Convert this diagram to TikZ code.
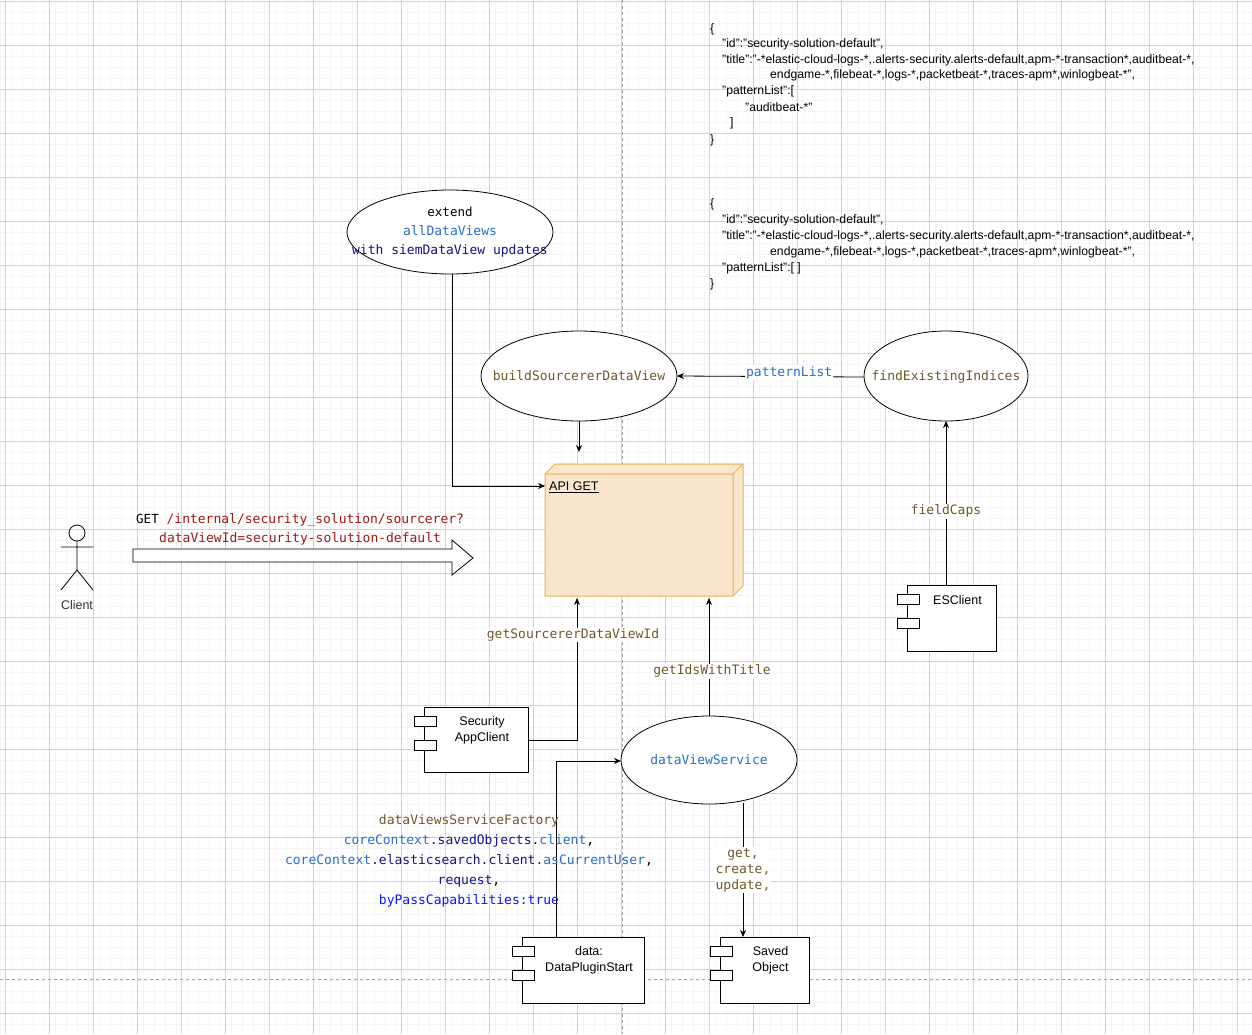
\documentclass[tikz,border=0pt]{standalone}
\usepackage{fontspec}
\setmainfont{Liberation Sans}
\newfontfamily\codefont{DejaVu Sans Mono}
\newcommand{\sanssz}{\fontsize{12.5}{19}\selectfont}
\newcommand{\codesz}{\codefont\fontsize{13}{19}\selectfont}
\usetikzlibrary{arrows.meta}
\definecolor{cbrown}{RGB}{110,88,40}
\definecolor{cblue}{RGB}{40,110,200}
\definecolor{cnavy}{RGB}{20,20,130}
\definecolor{cbright}{RGB}{10,20,250}
\definecolor{cred}{RGB}{160,25,25}
\definecolor{boxfill}{RGB}{250,230,205}
\definecolor{boxline}{RGB}{230,180,90}
\begin{document}
\begin{tikzpicture}[x=1pt,y=-1pt,
  comp/.style={draw,fill=white,line width=0.8pt},
  arr/.style={-{Stealth[length=7pt,width=6pt]},line width=0.8pt},
  code/.style={font=\codefont\fontsize{13}{20}\selectfont},
  sans/.style={font=\sanssz},
  json/.style={font=\fontsize{12.2}{16}\selectfont,anchor=west,inner sep=0pt}]
\useasboundingbox (0,0) rectangle (1252,1034);
\fill[white] (0,0) rectangle (1252,1034);
\foreach \i in {0,...,114} {\draw[gray!8,line width=0.8pt] (\i*11,0) -- (\i*11,1034);}
\foreach \i in {0,...,94} {\draw[gray!8,line width=0.8pt] (0,1+\i*11) -- (1252,1+\i*11);}
\foreach \i in {0,...,28} {\draw[gray!35,line width=0.7pt] (5+\i*44,0) -- (5+\i*44,1034);}
\foreach \i in {0,...,23} {\draw[gray!35,line width=0.7pt] (0,1+\i*44) -- (1252,1+\i*44);}
\draw[gray!70,dashed,line width=1pt] (622,0) -- (622,1034);
\draw[gray!70,dashed,line width=1pt] (0,979) -- (1252,979);

% ellipses
\draw[fill=white,line width=0.8pt] (450,232) ellipse [x radius=103,y radius=42];
\node[align=center,inner sep=0pt,font=\codesz] (ext) at (450,232) {{\sanssz extend}\\ \color{cblue}allDataViews\\ \color{cnavy}with siemDataView updates};
\coordinate (extb) at (452,274);
\draw[fill=white,line width=0.8pt] (579,376) ellipse [x radius=98,y radius=45];
\node[code,text=cbrown] (build) at (579,376) {buildSourcererDataView};
\coordinate (buildb) at (579,421); \coordinate (buildr) at (677,376);
\draw[fill=white,line width=0.8pt] (946,376) ellipse [x radius=82,y radius=45];
\node[code,text=cbrown] (find) at (946,377) {findExistingIndices};
\coordinate (findb) at (946,421); \coordinate (findl) at (864,377);
\draw[fill=white,line width=0.8pt] (709,760) ellipse [x radius=88,y radius=44];
\node[code,text=cblue] (dvs) at (709,760) {dataViewService};
\coordinate (dvst) at (709,716); \coordinate (dvsl) at (621,761); \coordinate (dvsb) at (743,803);

% API GET box
\draw[boxline,fill=boxfill,line width=1pt] (545,474) -- (555,464) -- (743,464) -- (743,586) -- (733,596) -- (545,596) -- cycle;
\draw[boxline,line width=1pt] (545,474) -- (733,474) -- (743,464) (733,474) -- (733,596);
\node[sans,anchor=west,inner sep=0pt] (api) at (549,487) {\underline{API GET}};
\coordinate (apil) at (545,486); \coordinate (apib1) at (577,598); \coordinate (apib2) at (709,598);

% components
\newcommand{\compo}[6]{%
 \draw[comp] (#1,#2) rectangle (#3,#4);
 \draw[comp] (#1-10,#2+9) rectangle (#1+12,#2+19);
 \draw[comp] (#1-10,#2+33) rectangle (#1+12,#2+43);
 \node[font=\fontsize{12.5}{16}\selectfont,align=center,inner sep=0pt] (#5) at ({(#1+#3)/2+6},#2+23) {#6};}
\compo{907}{585}{996}{651}{es}{ESClient\\ \phantom{X}}
\compo{424}{707}{528}{772}{sec}{Security\\AppClient}
\compo{522}{937}{644}{1003}{dps}{data:\\DataPluginStart}
\compo{720}{937}{809}{1003}{so}{Saved\\Object}
\coordinate (est) at (946,585); \coordinate (secr) at (528,740);
\coordinate (dpst) at (556,937); \coordinate (sot) at (743,937);

% actor
\draw[line width=0.8pt] (77,533) circle (8);
\draw[line width=0.8pt] (77,541) -- (77,570) (61,547) -- (93,547) (61,590) -- (77,570) -- (93,590);
\node[sans,text=black!80] (client) at (77,605) {Client};
% big arrow
\draw[line width=0.8pt,fill=white] (133,549) -- (452,549) -- (452,540) -- (473,558) -- (452,575) -- (452,562) -- (133,562) -- cycle;
\node[anchor=west,inner sep=0pt,align=left,font=\codesz] (getlbl) at (136,529) {{\sanssz GET} \color{cred}/internal/security\_solution/sourcerer?\\\hspace*{23pt}\color{cred}dataViewId=security-solution-default};

% connectors
\draw[arr] (extb) |- (apil);
\draw[arr] (buildb) -- (579,452);
\draw[arr] (findl) -- (buildr) node[pos=0.4,fill=white,inner sep=1pt,code,text=cblue,yshift=4pt] {patternList};
\draw[arr] (est) -- (findb) node[pos=0.45,fill=white,inner sep=1pt,code,text=cbrown] {fieldCaps};
\draw[arr] (secr) -| (apib1) node[pos=0.87,fill=white,inner sep=1pt,code,text=cbrown,xshift=-4pt] {getSourcererDataViewId};
\draw[arr] (dvst) -- (apib2) node[pos=0.38,fill=white,inner sep=1pt,code,text=cbrown,xshift=3pt] {getIdsWithTitle};
\draw[arr] (dpst) |- (dvsl);
\draw[arr] (dvsb) -- (sot) node[pos=0.5,fill=white,inner sep=1pt,text=cbrown,align=center,font=\codefont\fontsize{13}{16}\selectfont] {get,\\create,\\update,};
\node[align=center,inner sep=0pt,font=\codefont\fontsize{13}{20}\selectfont] (fact) at (469,861) {\color{cbrown}dataViewsServiceFactory\\
\color{cblue}coreContext\color{cnavy}.savedObjects.\color{cblue}client\color{black},\\
\color{cblue}coreContext\color{cnavy}.elasticsearch.client.\color{cblue}asCurrentUser\color{black},\\
\color{cnavy}request\color{black},\\
\color{cbright}byPassCapabilities:true};

% JSON
\node[json] (j1) at (710,29) {\{};
\node[json] (j2) at (722,44) {"id":"security-solution-default",};
\node[json] (j3) at (722,60) {"title":"-*elastic-cloud-logs-*,.alerts-security.alerts-default,apm-*-transaction*,auditbeat-*,};
\node[json] (j4) at (770,75) {endgame-*,filebeat-*,logs-*,packetbeat-*,traces-apm*,winlogbeat-*",};
\node[json] (j5) at (722,91) {"patternList":[};
\node[json] (j6) at (745,107) {"auditbeat-*"};
\node[json] (j7) at (730,123) {]};
\node[json] (j8) at (710,140) {\}};
\node[json] (k1) at (710,204) {\{};
\node[json] (k2) at (722,220) {"id":"security-solution-default",};
\node[json] (k3) at (722,236) {"title":"-*elastic-cloud-logs-*,.alerts-security.alerts-default,apm-*-transaction*,auditbeat-*,};
\node[json] (k4) at (770,252) {endgame-*,filebeat-*,logs-*,packetbeat-*,traces-apm*,winlogbeat-*",};
\node[json] (k5) at (722,268) {"patternList":[ ]};
\node[json] (k6) at (710,284) {\}};
\end{tikzpicture}
\end{document}
